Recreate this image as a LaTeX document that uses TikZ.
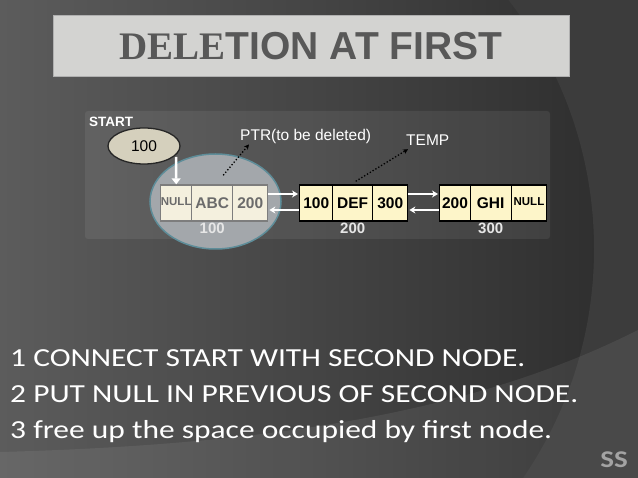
\documentclass[tikz,border=0pt]{standalone}
\usepackage{fontspec}
\setmainfont{Liberation Sans}
\newfontfamily\notefont[FakeStretch=1.21]{Carlito}
\newfontfamily\serifhead{Liberation Serif}
\usetikzlibrary{positioning,shapes.geometric,arrows.meta}
\definecolor{bgleft}{HTML}{5C5C5C}
\definecolor{bgright}{HTML}{2C2C2C}
\definecolor{bgouter}{HTML}{3C3C3C}
\definecolor{titlegray}{HTML}{D3D3D1}
\definecolor{titleedge}{HTML}{B0B0B0}
\definecolor{titletext}{HTML}{585858}
\definecolor{cellyellow}{HTML}{FDF5C9}
\definecolor{cellcream}{HTML}{F4F0DE}
\definecolor{fadedgray}{HTML}{7D7D7D}
\definecolor{fadedtext}{HTML}{6B6B6B}
\definecolor{hlfill}{HTML}{A3A7AB}
\definecolor{hledge}{HTML}{5E8D99}
\definecolor{ovalfill}{HTML}{D5D0BD}
\definecolor{addrwhite}{HTML}{E6E6E6}
\definecolor{sstext}{HTML}{A3A3A3}
\tikzset{%
	field/.style    = {draw=black, line width=1.4pt, fill=cellyellow, minimum height=36pt, inner sep=0pt, text height=11pt, text depth=0pt, font=\bfseries\fontsize{15.5}{16}\selectfont},
	oldfield/.style = {field, draw=fadedgray, fill=cellcream, text=fadedtext},
	link/.style     = {white, line width=1.6pt, shorten >=1pt, -{Stealth[length=6pt,width=7pt]}},
	pointer/.style  = {black, dotted, line width=1.3pt, -{Stealth[length=5pt,width=5pt]}},
	addr/.style     = {text=addrwhite, inner sep=1pt, font=\bfseries\fontsize{15}{15}\selectfont},
	label/.style    = {anchor=base west, inner sep=0pt, text=white, font=\fontsize{15.5}{16}\selectfont},
	note/.style     = {anchor=base west, inner sep=0pt, text=white, font=\notefont\fontsize{26}{26}\selectfont},
}
\newcommand{\nul}{\raisebox{3pt}{\fontsize{11.5}{12}\selectfont NULL}}

\begin{document}
\begin{tikzpicture}[x=1pt,y=-1pt]
	\useasboundingbox (0,0) rectangle (638,478);
	% background
	\shade[left color=bgleft, right color=bgright] (0,0) rectangle (638,478);
	\begin{scope}
		\clip (0,0) rectangle (638,478);
		\fill[bgouter, even odd rule] (-300,-300) rectangle (700,700) (189,249) circle[radius=405pt];
		\fill[white, opacity=0.07] (0,452) .. controls (260,445) and (470,415) .. (638,330) -- (638,478) -- (0,478) -- cycle;
	\end{scope}
	
	% title
	\node[draw=titleedge, fill=titlegray, minimum width=516pt, minimum height=61pt, text=titletext, font=\bfseries\fontsize{39}{39}\selectfont] (title) at (311,46) {{\serifhead DELE}TION AT FIRST};
	
	% panel
	\fill[white, opacity=0.07, rounded corners=3pt] (85,111) rectangle (550,239);
	\node[ellipse, fill=hlfill, draw=hledge, line width=1.5pt, minimum width=131pt, minimum height=95pt] (hl) at (215.5,201.5) {};
	\node[anchor=base west, inner sep=0pt, text=white, font=\bfseries\fontsize{13.5}{14}\selectfont] (startlbl) at (89,127) {START};
	\node[ellipse, fill=ovalfill, draw=black!85, line width=1.3pt, minimum width=72pt, minimum height=36pt, font=\fontsize{15.5}{16}\selectfont] (start) at (144,146) {100};
	
	% first node
	\node[oldfield, minimum width=31pt, anchor=west] (n1a) at (160,203) {\nul};
	\node[oldfield, minimum width=41pt, right=-1.4pt of n1a] (n1b) {ABC};
	\node[oldfield, minimum width=35pt, right=-1.4pt of n1b] (n1c) {200};
	% second node
	\node[field, minimum width=33pt, anchor=west] (n2a) at (299,203) {100};
	\node[field, minimum width=40pt, right=-1.4pt of n2a] (n2b) {DEF};
	\node[field, minimum width=35pt, right=-1.4pt of n2b] (n2c) {300};
	% third node
	\node[field, minimum width=30.5pt, anchor=west] (n3a) at (439,203) {200};
	\node[field, minimum width=41pt, right=-1.4pt of n3a] (n3b) {GHI};
	\node[field, minimum width=35.5pt, right=-1.4pt of n3b] (n3c) {\nul};
	
	\node[addr, below=0pt of n1b] (addr1) {100};
	\node[addr, below=0pt of n2b] (addr2) {200};
	\node[addr, below=0pt of n3b] (addr3) {300};
	
	\draw[link] ([yshift=9pt]n1c.east) -- ([yshift=9pt]n2a.west);
	\draw[link] ([yshift=-7pt]n2a.west) -- ([yshift=-7pt]n1c.east);
	\draw[link] ([yshift=9pt]n2c.east) -- ([yshift=9pt]n3a.west);
	\draw[link] ([yshift=-7pt]n3a.west) -- ([yshift=-7pt]n2c.east);
	
	\coordinate (droptop) at (176,157);
	\draw[white, line width=2.5pt, -{Triangle[length=6pt,width=9pt]}] (droptop) -- (n1a.north);
	
	\node[label] (ptr) at (240,141) {PTR(to be deleted)};
	\node[label] (temp) at (406,146) {TEMP};
	\draw[pointer] ([shift={(11pt,9pt)}]n1b.north) -- ([xshift=9pt]ptr.south west);
	\draw[pointer] ([shift={(3pt,3pt)}]n2b.north) -- ([shift={(2pt,-3pt)}]temp.south west);
	
	% steps
	\node[note] (note1) at (10,367) {1 CONNECT START WITH SECOND NODE.};
	\node[note] (note2) at (10,403) {2 PUT NULL IN PREVIOUS OF SECOND NODE.};
	\node[note] (note3) at (10,439) {3 free up the space occupied by first node.};
	\node[anchor=base east, inner sep=0pt, text=sstext, font=\notefont\bfseries\fontsize{24}{24}\selectfont] (mark) at (628,468) {SS};
\end{tikzpicture}
\end{document}
